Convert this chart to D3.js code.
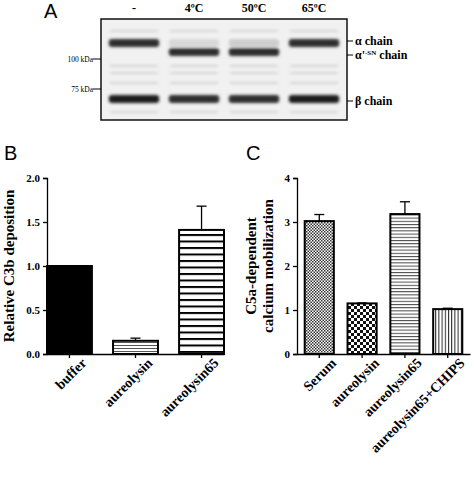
<!DOCTYPE html>
<html><head><meta charset="utf-8">
<script src="https://cdn.jsdelivr.net/npm/d3@7"></script>
<style>body{margin:0;background:#fff}text{font-family:"Liberation Serif",serif;font-weight:bold}</style>
</head><body><svg id="fig" width="474" height="486"></svg>
<script>
// gel lanes and bands
var laneLabels = ["-", "4\u00baC", "50\u00baC", "65\u00baC"];
var bandNames = ["alpha", "alphaSN", "beta"];
var bandIntensity = [ // per lane: alpha, alpha'-SN, beta
  [0.85, 0, 0.9],
  [0.25, 0.85, 0.85],
  [0.3, 0.85, 0.85],
  [0.85, 0, 0.9]
];
var bandY = [43, 52, 99];
var markerLabels = ["100 kDa", "75 kDa"];
var markerY = [59, 89];

// panel B
var bCats = ["buffer", "aureolysin", "aureolysin65"];
var bVals = [1.0, 0.15, 1.41];
var bErr = [0, 0.03, 0.27];
var bTicks = [0, 0.5, 1.0, 1.5, 2.0];

// panel C
var cCats = ["Serum", "aureolysin", "aureolysin65", "aureolysin65+CHIPS"];
var cVals = [3.02, 1.15, 3.18, 1.02];
var cErr = [0.15, 0.01, 0.28, 0.02];
var cTicks = [0, 1, 2, 3, 4];

var svg = d3.select("#fig");
var defs = svg.append("defs");
defs.append("filter").attr("id", "blur").append("feGaussianBlur").attr("stdDeviation", 1.6);

function pat(id, w, h, draw) {
  var p = defs.append("pattern").attr("id", id).attr("patternUnits", "userSpaceOnUse")
    .attr("width", w).attr("height", h);
  p.append("rect").attr("width", w).attr("height", h).attr("fill", "#fff");
  draw(p);
}
pat("hfine", 4, 3, p => p.append("rect").attr("width", 4).attr("height", 1).attr("fill", "#555"));
pat("hbold", 4, 6.5, p => p.append("rect").attr("width", 4).attr("height", 2).attr("fill", "#000"));
pat("cross", 3, 3, p => { p.append("rect").attr("width", 1.5).attr("height", 1.5).attr("fill", "#333");
  p.append("rect").attr("x", 1.5).attr("y", 1.5).attr("width", 1.5).attr("height", 1.5).attr("fill", "#333"); });
pat("check", 6, 6, p => { p.append("rect").attr("width", 3).attr("height", 3).attr("fill", "#111");
  p.append("rect").attr("x", 3).attr("y", 3).attr("width", 3).attr("height", 3).attr("fill", "#111"); });
pat("hthin", 4, 3.2, p => p.append("rect").attr("width", 4).attr("height", 1).attr("fill", "#444"));
pat("vthin", 3.2, 4, p => p.append("rect").attr("width", 1).attr("height", 4).attr("fill", "#222"));

// ---- Panel A ----
svg.append("text").attr("x", 44).attr("y", 18).style("font-family", "Liberation Sans,sans-serif")
  .style("font-weight", "normal").attr("font-size", 20).text("A");
var gx = d3.scaleBand().domain(d3.range(4)).range([101, 347]).paddingInner(0.06).paddingOuter(0.08);
svg.append("rect").attr("x", 101).attr("y", 19).attr("width", 246).attr("height", 101)
  .attr("fill", "#f1f1f1").attr("stroke", "#111").attr("stroke-width", 1.5);
var gel = svg.append("g").attr("filter", "url(#blur)");
laneLabels.forEach((l, i) => {
  [30, 65, 72, 82, 111].forEach(y => gel.append("rect").attr("x", gx(i) + 4).attr("y", y)
    .attr("width", gx.bandwidth() - 8).attr("height", 2).attr("fill", "#d4d4d4"));
  bandIntensity[i].forEach((v, j) => {
    if (v <= 0) return;
    gel.append("rect").attr("x", gx(i) + 3).attr("y", bandY[j] - 4).attr("width", gx.bandwidth() - 6)
      .attr("height", 8).attr("rx", 3).attr("fill", d3.interpolateGreys(v));
  });
  svg.append("text").attr("x", gx(i) + gx.bandwidth() / 2).attr("y", 12).attr("text-anchor", "middle")
    .attr("font-size", 12).text(l);
});
markerLabels.forEach((m, i) => {
  svg.append("text").attr("x", 93).attr("y", markerY[i] + 3).attr("text-anchor", "end")
    .attr("font-size", 7.5).style("font-weight", "normal").text(m);
  svg.append("line").attr("x1", 93).attr("x2", 101).attr("y1", markerY[i]).attr("y2", markerY[i]).attr("stroke", "#000");
});
[41, 55, 101].forEach(y => {
  svg.append("line").attr("x1", 347).attr("x2", 353).attr("y1", y).attr("y2", y).attr("stroke", "#000");
});
svg.append("text").attr("x", 355).attr("y", 45).attr("font-size", 12).text("\u03b1 chain");
var t2 = svg.append("text").attr("x", 355).attr("y", 59).attr("font-size", 12);
t2.append("tspan").text("\u03b1'");
t2.append("tspan").attr("font-size", 7).attr("dy", -4).text("-SN");
t2.append("tspan").attr("dy", 4).text(" chain");
svg.append("text").attr("x", 355).attr("y", 105).attr("font-size", 12).text("\u03b2 chain");

// ---- bar panel helper ----
function panel(o) {
  var g = svg.append("g");
  var x = d3.scaleBand().domain(o.cats).range([o.x0, o.x1]).paddingInner(o.pi).paddingOuter(o.po);
  var y = d3.scaleLinear().domain([0, o.max]).range([354, 178]);
  g.append("g").attr("transform", "translate(" + o.x0 + ",0)")
    .call(d3.axisLeft(y).tickValues(o.ticks).tickFormat(o.fmt).tickSize(4))
    .call(a => a.selectAll("text").attr("font-size", 11).style("font-family", "Liberation Serif,serif").style("font-weight", "bold"))
    .call(a => a.selectAll("path,line").attr("stroke-width", 1.3));
  g.append("g").attr("transform", "translate(0,354)")
    .call(d3.axisBottom(x).tickSize(4).tickSizeOuter(0))
    .call(a => a.selectAll("path,line").attr("stroke-width", 1.3))
    .call(a => a.selectAll("text").attr("font-size", 14).style("font-family", "Liberation Serif,serif")
      .style("font-weight", "bold").attr("text-anchor", "end").attr("dx", "0.4em").attr("dy", "0.9em")
      .attr("transform", "rotate(-45)"));
  o.cats.forEach((c, i) => {
    var cx = x(c) + x.bandwidth() / 2;
    if (o.err[i] > 0) {
      g.append("line").attr("x1", cx).attr("x2", cx).attr("y1", y(o.vals[i])).attr("y2", y(o.vals[i] + o.err[i])).attr("stroke", "#000").attr("stroke-width", 1.3);
      g.append("line").attr("x1", cx - 5).attr("x2", cx + 5).attr("y1", y(o.vals[i] + o.err[i])).attr("y2", y(o.vals[i] + o.err[i])).attr("stroke", "#000").attr("stroke-width", 1.3);
    }
    g.append("rect").attr("x", x(c)).attr("y", y(o.vals[i])).attr("width", x.bandwidth())
      .attr("height", 354 - y(o.vals[i])).attr("fill", o.fills[i]).attr("stroke", "#000").attr("stroke-width", 2);
  });
  g.append("text").attr("x", o.lx - 10).attr("y", 160).style("font-family", "Liberation Sans,sans-serif")
    .style("font-weight", "normal").attr("font-size", 20).text(o.letter);
  var lab = g.append("text").attr("transform", "translate(" + o.lx + ",266) rotate(-90)")
    .attr("text-anchor", "middle").attr("font-size", 15);
  o.label.forEach((l, k) => lab.append("tspan").attr("x", 0).attr("dy", k ? 17 : 0).text(l));
}

panel({ cats: bCats, vals: bVals, err: bErr, ticks: bTicks, max: 2.0, fmt: d3.format(".1f"),
  x0: 47, x1: 224, pi: 0.32, po: 0.0, fills: ["#000", "url(#hfine)", "url(#hbold)"],
  letter: "B", lx: 14, label: ["Relative C3b deposition"] });
panel({ cats: cCats, vals: cVals, err: cErr, ticks: cTicks, max: 4, fmt: d3.format("d"),
  x0: 297, x1: 470, pi: 0.32, po: 0.18, fills: ["url(#cross)", "url(#check)", "url(#hthin)", "url(#vthin)"],
  letter: "C", lx: 256, label: ["C5a-dependent", "calcium mobilization"] });
</script></body></html>
